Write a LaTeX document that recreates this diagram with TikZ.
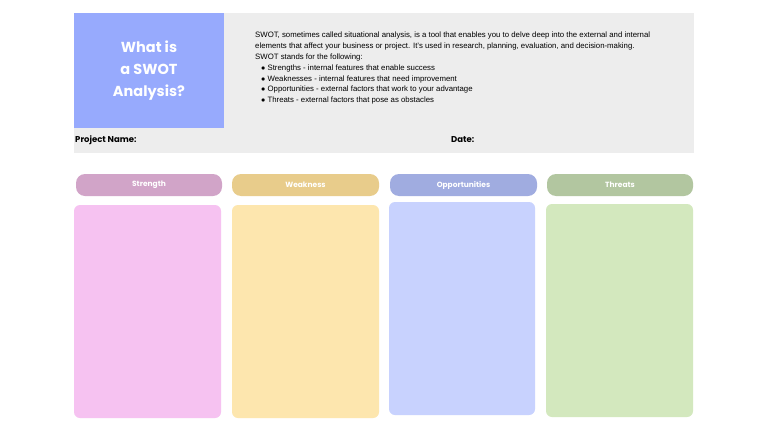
\documentclass[tikz,border=0pt]{standalone}
\usepackage{fontspec}
\setmainfont{Liberation Sans}
\newfontfamily\hd{Poppins}
\begin{document}
\begin{tikzpicture}[x=1pt,y=-1pt,
  pill/.style={rounded corners=9pt,inner sep=0pt,text=white,font=\hd\fontsize{7.5}{8}\selectfont},
  card/.style={rounded corners=6pt}]
\useasboundingbox (0,0) rectangle (768,431);
\fill[white] (0,0) rectangle (768,431);
\fill[black!7] (74,13) rectangle (694,153);
\fill[fill={rgb,255:red,151;green,170;blue,253}] (74,13) rectangle (224,128);
\node[text=white,align=center,font=\hd\bfseries\fontsize{14.5}{22}\selectfont] (title) at (149,71) {What is\\a SWOT\\Analysis?};
\node[anchor=north west,align=left,inner sep=0pt,font=\fontsize{7.8}{10.8}\selectfont] (desc) at (255,32) {SWOT, sometimes called situational analysis, is a tool that enables you to delve deep into the external and internal\\
elements that affect your business or project. It's used in research, planning, evaluation, and decision-making.\\
SWOT stands for the following:\\
\hspace*{6pt}$\bullet$ Strengths - internal features that enable success\\
\hspace*{6pt}$\bullet$ Weaknesses - internal features that need improvement\\
\hspace*{6pt}$\bullet$ Opportunities - external factors that work to your advantage\\
\hspace*{6pt}$\bullet$ Threats - external factors that pose as obstacles};
\node[anchor=west,inner sep=0pt,font=\hd\bfseries\fontsize{8.5}{9}\selectfont] (pn) at (75,140) {Project Name:};
\node[anchor=west,inner sep=0pt,font=\hd\bfseries\fontsize{8.5}{9}\selectfont] (dt) at (451,140) {Date:};
\definecolor{p1}{RGB}{209,164,200}\definecolor{p2}{RGB}{232,204,139}
\definecolor{p3}{RGB}{160,172,224}\definecolor{p4}{RGB}{178,198,160}
\definecolor{c1}{RGB}{246,194,241}\definecolor{c2}{RGB}{253,230,174}
\definecolor{c3}{RGB}{200,210,254}\definecolor{c4}{RGB}{211,232,190}
\fill[p1,pill] (76,174) rectangle (222,196); \node[pill] (s) at (149,185) {\bfseries Strength};
\fill[p2,pill] (232,174) rectangle (379,196); \node[pill] (w) at (305.5,185) {\bfseries Weakness};
\fill[p3,pill] (390,174) rectangle (537,196); \node[pill] (o) at (463.5,185) {\bfseries Opportunities};
\fill[p4,pill] (547,174) rectangle (693,196); \node[pill] (t) at (620,185) {\bfseries Threats};
\fill[c1,card] (74,205) rectangle (221,418);
\fill[c2,card] (232,205) rectangle (379,418);
\fill[c3,card] (389,202) rectangle (535,415);
\fill[c4,card] (546,204) rectangle (693,417);
\end{tikzpicture}
\end{document}
